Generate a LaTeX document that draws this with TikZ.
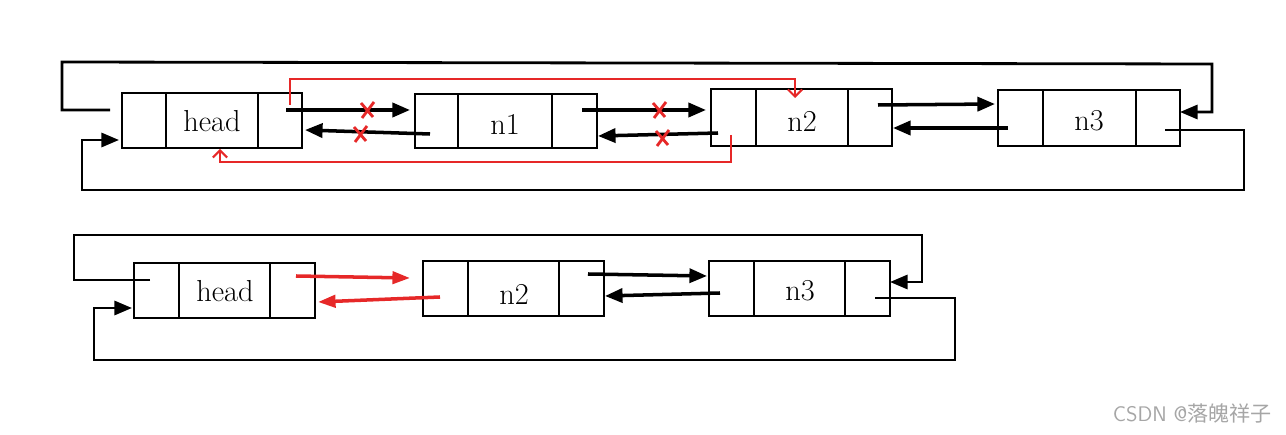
\documentclass[tikz,border=0pt]{standalone}
\usepackage{fontspec}
\newfontfamily\cjk{Noto Sans CJK SC}
\usetikzlibrary{arrows.meta}
\definecolor{rd}{RGB}{230,40,40}
\begin{document}
\begin{tikzpicture}[x=0.02cm,y=-0.02cm,
 bx/.style={draw,line width=1.5pt},
 arr/.style={line width=2pt,-{Triangle[length=10pt,width=8pt]}},
 rarr/.style={rd,line width=2pt,-{Triangle[length=10pt,width=7pt]}},
 loop/.style={line width=1.6pt},
 rloop/.style={rd,line width=1.2pt},
 lab/.style={font=\LARGE}]
\useasboundingbox (0,0) rectangle (1286,435);
\newcommand{\lnode}[7]{%
 \draw[bx] (#2,#6) rectangle (#3,#7);
 \draw[bx] (#4,#6) -- (#4,#7) (#5,#6) -- (#5,#7);}
% top row
\lnode{h}{122}{302}{166}{258}{93}{148}{}
\lnode{a}{415}{597}{458}{552}{94}{148}{}
\lnode{b}{711}{892}{756}{848}{89}{146}{}
\lnode{c}{998}{1180}{1043}{1136}{90}{146}{}
\node[lab] (th) at (212,121) {head};
\node[lab] (t1) at (505,124) {n1};
\node[lab] (t2) at (802,121) {n2};
\node[lab] (t3) at (1089,121) {n3};
\coordinate (p1) at (286,110); \coordinate (p2) at (410,110);
\draw[arr] (p1) -- (p2);
\coordinate (p3) at (430,134); \coordinate (p4) at (305,130);
\draw[arr] (p3) -- (p4);
\coordinate (p5) at (582,110); \coordinate (p6) at (706,110);
\draw[arr] (p5) -- (p6);
\coordinate (p7) at (718,133); \coordinate (p8) at (598,136);
\draw[arr] (p7) -- (p8);
\coordinate (p9) at (878,105); \coordinate (p10) at (995,104);
\draw[arr] (p9) -- (p10);
\coordinate (p11) at (1008,128); \coordinate (p12) at (893,128);
\draw[arr] (p11) -- (p12);
\coordinate (q1) at (110,110); \coordinate (q2) at (1180,112);
\draw[loop,-{Triangle[length=10pt,width=8pt]}] (q1) -- (62,110) -- (62,62) -- (1212,64) -- (1212,112) -- (q2);
\coordinate (q3) at (1165,130); \coordinate (q4) at (119,140);
\draw[loop,-{Triangle[length=10pt,width=8pt]}] (q3) -- (1244,130) -- (1244,190) -- (82,190) -- (82,140) -- (q4);
% red changes
\coordinate (r1) at (290,105); \coordinate (r2) at (795,98);
\draw[rloop,-{Straight Barb[length=4pt,width=8pt]}] (r1) -- (290,79) -- (795,79) -- (r2);
\coordinate (r3) at (731,135); \coordinate (r4) at (220,149);
\draw[rloop,-{Straight Barb[length=4pt,width=8pt]}] (r3) -- (731,162) -- (220,162) -- (r4);
\foreach \x/\y in {367/110,360/134,659/110,662/138}{
 \draw[rd,line width=1.6pt] (\x-6,\y-7) -- (\x+6,\y+7) (\x+7,\y-8) -- (\x-5,\y+8);}
% bottom row
\lnode{H}{134}{315}{179}{270}{263}{318}{}
\lnode{B}{423}{604}{468}{559}{261}{316}{}
\lnode{C}{709}{890}{754}{845}{261}{316}{}
\node[lab] (bh) at (225,291) {head};
\node[lab] (b2) at (514,294) {n2};
\node[lab] (b3) at (800,291) {n3};
\coordinate (s1) at (296,276); \coordinate (s2) at (410,278);
\draw[rarr] (s1) -- (s2);
\coordinate (s3) at (440,297); \coordinate (s4) at (318,302);
\draw[rarr] (s3) -- (s4);
\coordinate (s5) at (588,274); \coordinate (s6) at (707,276);
\draw[arr] (s5) -- (s6);
\coordinate (s7) at (720,293); \coordinate (s8) at (605,296);
\draw[arr] (s7) -- (s8);
\coordinate (u1) at (150,280); \coordinate (u2) at (890,282);
\draw[loop,-{Triangle[length=10pt,width=8pt]}] (u1) -- (74,280) -- (74,235) -- (922,235) -- (922,282) -- (u2);
\coordinate (u3) at (875,298); \coordinate (u4) at (132,308);
\draw[loop,-{Triangle[length=10pt,width=8pt]}] (u3) -- (955,298) -- (955,360) -- (94,360) -- (94,308) -- (u4);
\node[text=gray!70,font=\large\sffamily,anchor=east] (wm) at (1278,413) {CSDN @{\cjk 落魄祥子}};
\end{tikzpicture}
\end{document}
